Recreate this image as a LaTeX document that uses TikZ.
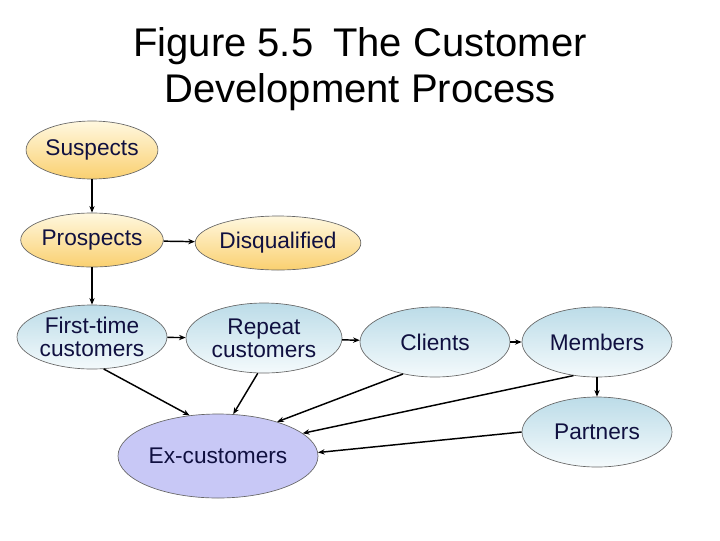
\documentclass[tikz,border=0pt]{standalone}
\usepackage{fontspec}
\setmainfont{Liberation Sans}
\usetikzlibrary{shapes.geometric,arrows.meta}
\definecolor{ytop}{HTML}{FFF8E0}
\definecolor{ybot}{HTML}{FAD070}
\definecolor{btop}{HTML}{BCDCE8}
\definecolor{bbot}{HTML}{F4FAFC}
\definecolor{lav}{HTML}{C8C8F6}
\definecolor{txt}{HTML}{101040}
\begin{document}
\begin{tikzpicture}[x=0.75pt,y=-0.75pt,
  el/.style={ellipse,draw=black!60,line width=0.5pt,inner sep=0pt,text=txt,font=\fontsize{17}{17}\selectfont,align=center},
  yel/.style={el,top color=ytop,bottom color=ybot},
  blu/.style={el,top color=btop,bottom color=bbot},
  arr/.style={-{Stealth[length=5pt,width=4pt]},line width=1.1pt}]
\useasboundingbox (0,0) rectangle (720,540);
\node[font=\fontsize{30}{35}\selectfont,align=center] (title) at (360,69) {Figure 5.5\enspace The Customer\\Development Process};
\node[yel,minimum width=114pt*0.75,minimum height=58pt*0.75] (s) at (92,150) {Suspects};
\node[yel,minimum width=114pt*0.75,minimum height=54pt*0.75] (p) at (92,240) {Prospects};
\node[yel,minimum width=136pt*0.75,minimum height=54pt*0.75] (d) at (278,243) {Disqualified};
\node[blu,minimum width=150pt*0.75,minimum height=64pt*0.75] (f) at (92,337) {First-time\\customers};
\node[blu,minimum width=156pt*0.75,minimum height=70pt*0.75] (r) at (264,338) {Repeat\\customers};
\node[blu,minimum width=150pt*0.75,minimum height=70pt*0.75] (c) at (435,342) {Clients};
\node[blu,minimum width=150pt*0.75,minimum height=70pt*0.75] (m) at (597,342) {Members};
\node[blu,minimum width=150pt*0.75,minimum height=70pt*0.75] (pa) at (597,432) {Partners};
\node[el,fill=lav,minimum width=200pt*0.75,minimum height=84pt*0.75] (e) at (218,456) {Ex-customers};
\draw[arr] (s) -- (p);
\draw[arr] (p) -- (d);
\draw[arr] (p) -- (f);
\draw[arr] (f) -- (r);
\draw[arr] (r) -- (c);
\draw[arr] (c) -- (m);
\draw[arr] (m) -- (pa);
\draw[arr] (f.-70) -- (e.125);
\draw[arr] (r.-100) -- (e.70);
\draw[arr] (c.-135) -- (e.30);
\draw[arr] (m.-125) -- (e.15);
\draw[arr] (pa.west) -- (e.2);
\end{tikzpicture}
\end{document}
